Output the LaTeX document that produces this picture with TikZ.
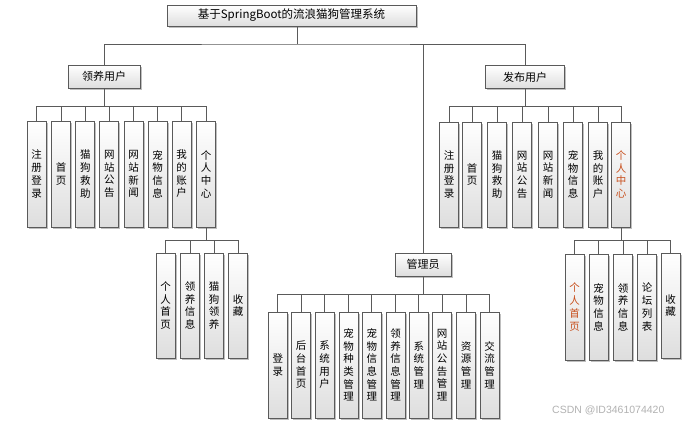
\documentclass[tikz,border=0pt]{standalone}
\usepackage{fontspec}
\setmainfont{Noto Sans CJK SC}
\newfontfamily\wmfont{Liberation Sans}
\usetikzlibrary{shadows}
\definecolor{edge}{HTML}{5A5A5A}
\definecolor{hl}{HTML}{C8501E}
\tikzset{
  box/.style={draw=edge, line width=0.9pt, top color=white, bottom color=black!13,
    drop shadow={shadow xshift=1.6pt, shadow yshift=-1.6pt, fill=black!45, opacity=0.55},
    inner sep=0pt, align=center},
  hbox/.style={box, minimum height=22pt, font=\fontsize{11}{13}\selectfont},
  vbox/.style={box, minimum width=19pt, minimum height=106pt, font=\fontsize{10.5}{12.7}\selectfont},
  link/.style={draw=edge, line width=0.9pt},
}
\begin{document}
\begin{tikzpicture}[x=1pt,y=-1pt]
\fill[white] (0,0) rectangle (696,423);
\useasboundingbox (0,0) rectangle (696,423);

% top level
\node[hbox, minimum width=249pt, minimum height=21pt, font=\fontsize{11.5}{14}\selectfont] (root) at (291.5,15.5) {基于SpringBoot的流浪猫狗管理系统};
\node[hbox, minimum width=72pt, minimum height=23pt] (ly) at (104,76.5) {领养用户};
\node[hbox, minimum width=79pt, minimum height=23pt] (fb) at (525,77) {发布用户};
\node[hbox, minimum width=56pt, minimum height=23pt] (gl) at (423,264.5) {管理员};

% 领养用户 children
\node[vbox] (L1) at (36.6,174) {注\\册\\登\\录};
\node[vbox] (L2) at (61,174) {首\\页};
\node[vbox] (L3) at (85.3,174) {猫\\狗\\救\\助};
\node[vbox] (L4) at (109.3,174) {网\\站\\公\\告};
\node[vbox] (L5) at (133.6,174) {网\\站\\新\\闻};
\node[vbox] (L6) at (157.6,174) {宠\\物\\信\\息};
\node[vbox] (L7) at (181.6,174) {我\\的\\账\\户};
\node[vbox] (L8) at (206,174) {个\\人\\中\\心};

\node[vbox, minimum height=105pt] (LS1) at (165.5,305.5) {个\\人\\首\\页};
\node[vbox, minimum height=105pt] (LS2) at (190,305.5) {领\\养\\信\\息};
\node[vbox, minimum height=105pt] (LS3) at (214,305.5) {猫\\狗\\领\\养};
\node[vbox, minimum height=105pt] (LS4) at (238,305.5) {收\\藏};

% 发布用户 children
\node[vbox, minimum height=105pt] (R1) at (449,174.5) {注\\册\\登\\录};
\node[vbox, minimum height=105pt] (R2) at (472,174.5) {首\\页};
\node[vbox, minimum height=105pt] (R3) at (497,174.5) {猫\\狗\\救\\助};
\node[vbox, minimum height=105pt] (R4) at (522,174.5) {网\\站\\公\\告};
\node[vbox, minimum height=105pt] (R5) at (548,174.5) {网\\站\\新\\闻};
\node[vbox, minimum height=105pt] (R6) at (573,174.5) {宠\\物\\信\\息};
\node[vbox, minimum height=105pt] (R7) at (598,174.5) {我\\的\\账\\户};
\node[vbox, minimum height=105pt, text=hl] (R8) at (621,174.5) {个\\人\\中\\心};

\node[vbox, text=hl] (RS1) at (574.7,307) {个\\人\\首\\页};
\node[vbox] (RS2) at (598.7,307) {宠\\物\\信\\息};
\node[vbox] (RS3) at (623,307) {领\\养\\信\\息};
\node[vbox] (RS4) at (647,307) {论\\坛\\列\\表};
\node[vbox, minimum height=105pt] (RS5) at (670.7,305.5) {收\\藏};

% 管理员 children
\node[vbox] (A1) at (277.8,365) {登\\录};
\node[vbox] (A2) at (301.2,365) {后\\台\\首\\页};
\node[vbox] (A3) at (324.5,365) {系\\统\\用\\户};
\node[vbox] (A4) at (348.5,365) {宠\\物\\种\\类\\管\\理};
\node[vbox] (A5) at (371.8,365) {宠\\物\\信\\息\\管\\理};
\node[vbox] (A6) at (395.5,365) {领\\养\\信\\息\\管\\理};
\node[vbox] (A7) at (418.8,365) {系\\统\\管\\理};
\node[vbox] (A8) at (442.2,365) {网\\站\\公\\告\\管\\理};
\node[vbox] (A9) at (466.2,365) {资\\源\\管\\理};
\node[vbox] (A10) at (489.5,365) {交\\流\\管\\理};

% connectors
\coordinate (t) at (297,44);
\draw[link] (t |- root.south) -- (t);
\draw[link] (ly.north) |- (t) -| (fb.north);
\draw[link] (t -| gl.north) -- (gl.north);

\coordinate (bl) at (ly.south |- 0,106);
\draw[link] (ly.south) -- (bl);
\foreach \n in {L1,L2,L3,L4,L5,L6,L7,L8} \draw[link] (bl) -| (\n.north);

\coordinate (bls) at (L8.south |- 0,240);
\draw[link] (L8.south) -- (bls);
\foreach \n in {LS1,LS2,LS3,LS4} \draw[link] (bls) -| (\n.north);

\coordinate (br) at (fb.south |- 0,106.5);
\draw[link] (fb.south) -- (br);
\foreach \n in {R1,R2,R3,R4,R5,R6,R7,R8} \draw[link] (br) -| (\n.north);

\coordinate (brs) at (R8.south |- 0,240);
\draw[link] (R8.south) -- (brs);
\foreach \n in {RS1,RS2,RS3,RS4,RS5} \draw[link] (brs) -| (\n.north);

\coordinate (ba) at (gl.south |- 0,294);
\draw[link] (gl.south) -- (ba);
\foreach \n in {A1,A2,A3,A4,A5,A6,A7,A8,A9,A10} \draw[link] (ba) -| (\n.north);

% watermark
\node[font=\wmfont\fontsize{10.5}{12}\selectfont, text=black!30, anchor=west, inner sep=0pt] (wm) at (552,410) {CSDN @ID3461074420};
\end{tikzpicture}
\end{document}
